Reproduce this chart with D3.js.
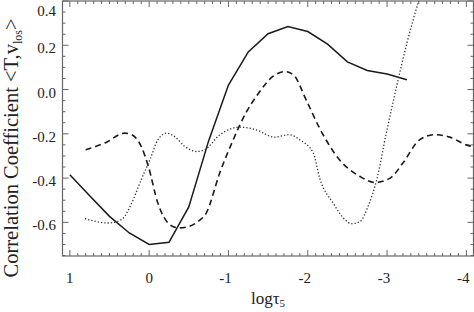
<!DOCTYPE html>
<html lang="en">
<head>
    <meta charset="UTF-8">
    <title>Correlation Coefficient vs log tau5</title>
    <script src="https://d3js.org/d3.v7.min.js"></script>
    <style>
        body { margin: 0; padding: 0; background: #fff; }
        svg { display: block; }
        .tick-label { font-family: 'Liberation Serif', 'DejaVu Serif', serif; font-size: 15px; fill: #222; }
        .axis-title { font-family: 'Liberation Serif', 'DejaVu Serif', serif; fill: #222; }
    </style>
</head>
<body>
<svg width="474" height="312"></svg>
<script>
    // x: log tau5 (reversed), y: correlation coefficient
    const xTicks = [1, 0, -1, -2, -3, -4];
    const yTicks = [0.4, 0.2, 0.0, -0.2, -0.4, -0.6];

    const solidX = [1.0, 0.75, 0.5, 0.25, 0.0, -0.25, -0.5, -0.75, -1.0, -1.25, -1.5, -1.75, -2.0, -2.25, -2.5, -2.75, -3.0, -3.25];
    const solidY = [-0.385, -0.48, -0.573, -0.648, -0.70, -0.69, -0.53, -0.232, 0.02, 0.17, 0.252, 0.285, 0.262, 0.205, 0.125, 0.086, 0.07, 0.044];

    const dashX = [0.8, 0.55, 0.31, 0.22, 0.1, 0.01, -0.11, -0.26, -0.37, -0.49, -0.62, -0.72, -0.89, -1.06, -1.23, -1.35, -1.56, -1.71, -1.82, -1.98, -2.15, -2.4, -2.66, -2.85, -3.04, -3.2, -3.41, -3.6, -3.79, -4.0, -4.1];
    const dashY = [-0.272, -0.24, -0.197, -0.204, -0.257, -0.347, -0.513, -0.61, -0.625, -0.62, -0.595, -0.558, -0.377, -0.227, -0.099, -0.032, 0.059, 0.081, 0.066, -0.047, -0.175, -0.317, -0.393, -0.42, -0.40, -0.332, -0.227, -0.204, -0.215, -0.25, -0.259];

    const dotX = [0.81, 0.52, 0.35, 0.22, 0.1, -0.01, -0.11, -0.22, -0.32, -0.45, -0.6, -0.7, -0.89, -1.14, -1.35, -1.58, -1.77, -1.9, -2.07, -2.15, -2.32, -2.47, -2.55, -2.66, -2.76, -2.87, -2.99, -3.12, -3.25, -3.39, -3.45];
    const dotY = [-0.583, -0.603, -0.588, -0.513, -0.407, -0.317, -0.227, -0.197, -0.212, -0.257, -0.28, -0.272, -0.205, -0.17, -0.182, -0.215, -0.204, -0.227, -0.287, -0.40, -0.513, -0.588, -0.606, -0.596, -0.528, -0.407, -0.197, 0.013, 0.209, 0.39, 0.46];

    const svg = d3.select("svg");
    const pLeft = 62.5, pRight = 473.5, pTop = 1, pBottom = 256;

    const x = d3.scaleLinear().domain([1.0925, -4.09]).range([pLeft, pRight]);
    const y = d3.scaleLinear().domain([-0.752, 0.4]).range([pBottom, pTop]);

    svg.append("clipPath").attr("id", "clip")
        .append("rect").attr("x", pLeft).attr("y", pTop).attr("width", pRight - pLeft).attr("height", pBottom - pTop);

    const axisColor = "#666";

    // ticks on all four sides, pointing inward
    const xMinor = d3.range(10, -42, -1).map(d => d / 10);
    const yMinor = d3.range(-15, 9, 1).map(d => d / 20);

    function isMajor(v, list) { return list.some(t => Math.abs(t - v) < 1e-6); }

    const g = svg.append("g").attr("stroke", axisColor);

    xMinor.forEach(v => {
        const len = isMajor(v, xTicks) ? 6 : 3;
        g.append("line").attr("x1", x(v)).attr("x2", x(v)).attr("y1", pBottom).attr("y2", pBottom - len);
        g.append("line").attr("x1", x(v)).attr("x2", x(v)).attr("y1", pTop).attr("y2", pTop + len);
    });
    yMinor.forEach(v => {
        const len = isMajor(v, yTicks) ? 6 : 3;
        g.append("line").attr("y1", y(v)).attr("y2", y(v)).attr("x1", pLeft).attr("x2", pLeft + len);
        g.append("line").attr("y1", y(v)).attr("y2", y(v)).attr("x1", pRight).attr("x2", pRight - len);
    });
    g.append("rect").attr("x", pLeft).attr("y", pTop).attr("width", pRight - pLeft).attr("height", pBottom - pTop)
        .attr("fill", "none").attr("stroke-width", 1.2);

    // tick labels
    svg.selectAll(".xl").data(xTicks).enter().append("text")
        .attr("class", "tick-label")
        .attr("x", d => x(d) - (d < 0 ? 3 : 0))
        .attr("y", 283)
        .attr("text-anchor", "middle")
        .text(d => d3.format("d")(d).replace("−", "-"));

    svg.selectAll(".yl").data(yTicks).enter().append("text")
        .attr("class", "tick-label")
        .attr("x", 56)
        .attr("y", d => Math.max(y(d) + 8, 16))
        .attr("text-anchor", "end")
        .text(d => d3.format(".1f")(d).replace("−", "-"));

    // axis titles
    const xt = svg.append("text").attr("class", "axis-title")
        .attr("x", 268).attr("y", 304).attr("text-anchor", "middle").style("font-size", "17px");
    xt.append("tspan").text("log\u03c4");
    xt.append("tspan").attr("baseline-shift", "-30%").style("font-size", "11px").text("5");

    const yt = svg.append("text").attr("class", "axis-title")
        .attr("transform", "translate(18,148) rotate(-90)")
        .attr("text-anchor", "middle").style("font-size", "20.5px");
    yt.append("tspan").text("Correlation Coefficient <T,v");
    yt.append("tspan").attr("baseline-shift", "-30%").style("font-size", "12px").text("los");
    yt.append("tspan").text(">");

    // curves
    const line = d3.line().x(d => x(d[0])).y(d => y(d[1]));
    const curve = d3.line().x(d => x(d[0])).y(d => y(d[1])).curve(d3.curveMonotoneX);
    const lines = svg.append("g").attr("clip-path", "url(#clip)").attr("fill", "none");

    lines.append("path").datum(d3.zip(solidX, solidY)).attr("d", line)
        .attr("stroke", "#1a1a1a").attr("stroke-width", 1.5);
    lines.append("path").datum(d3.zip(dashX, dashY)).attr("d", curve)
        .attr("stroke", "#1a1a1a").attr("stroke-width", 1.6).attr("stroke-dasharray", "6,4");
    lines.append("path").datum(d3.zip(dotX, dotY)).attr("d", curve)
        .attr("stroke", "#333").attr("stroke-width", 1.3).attr("stroke-dasharray", "1.3,2");
</script>
</body>
</html>
